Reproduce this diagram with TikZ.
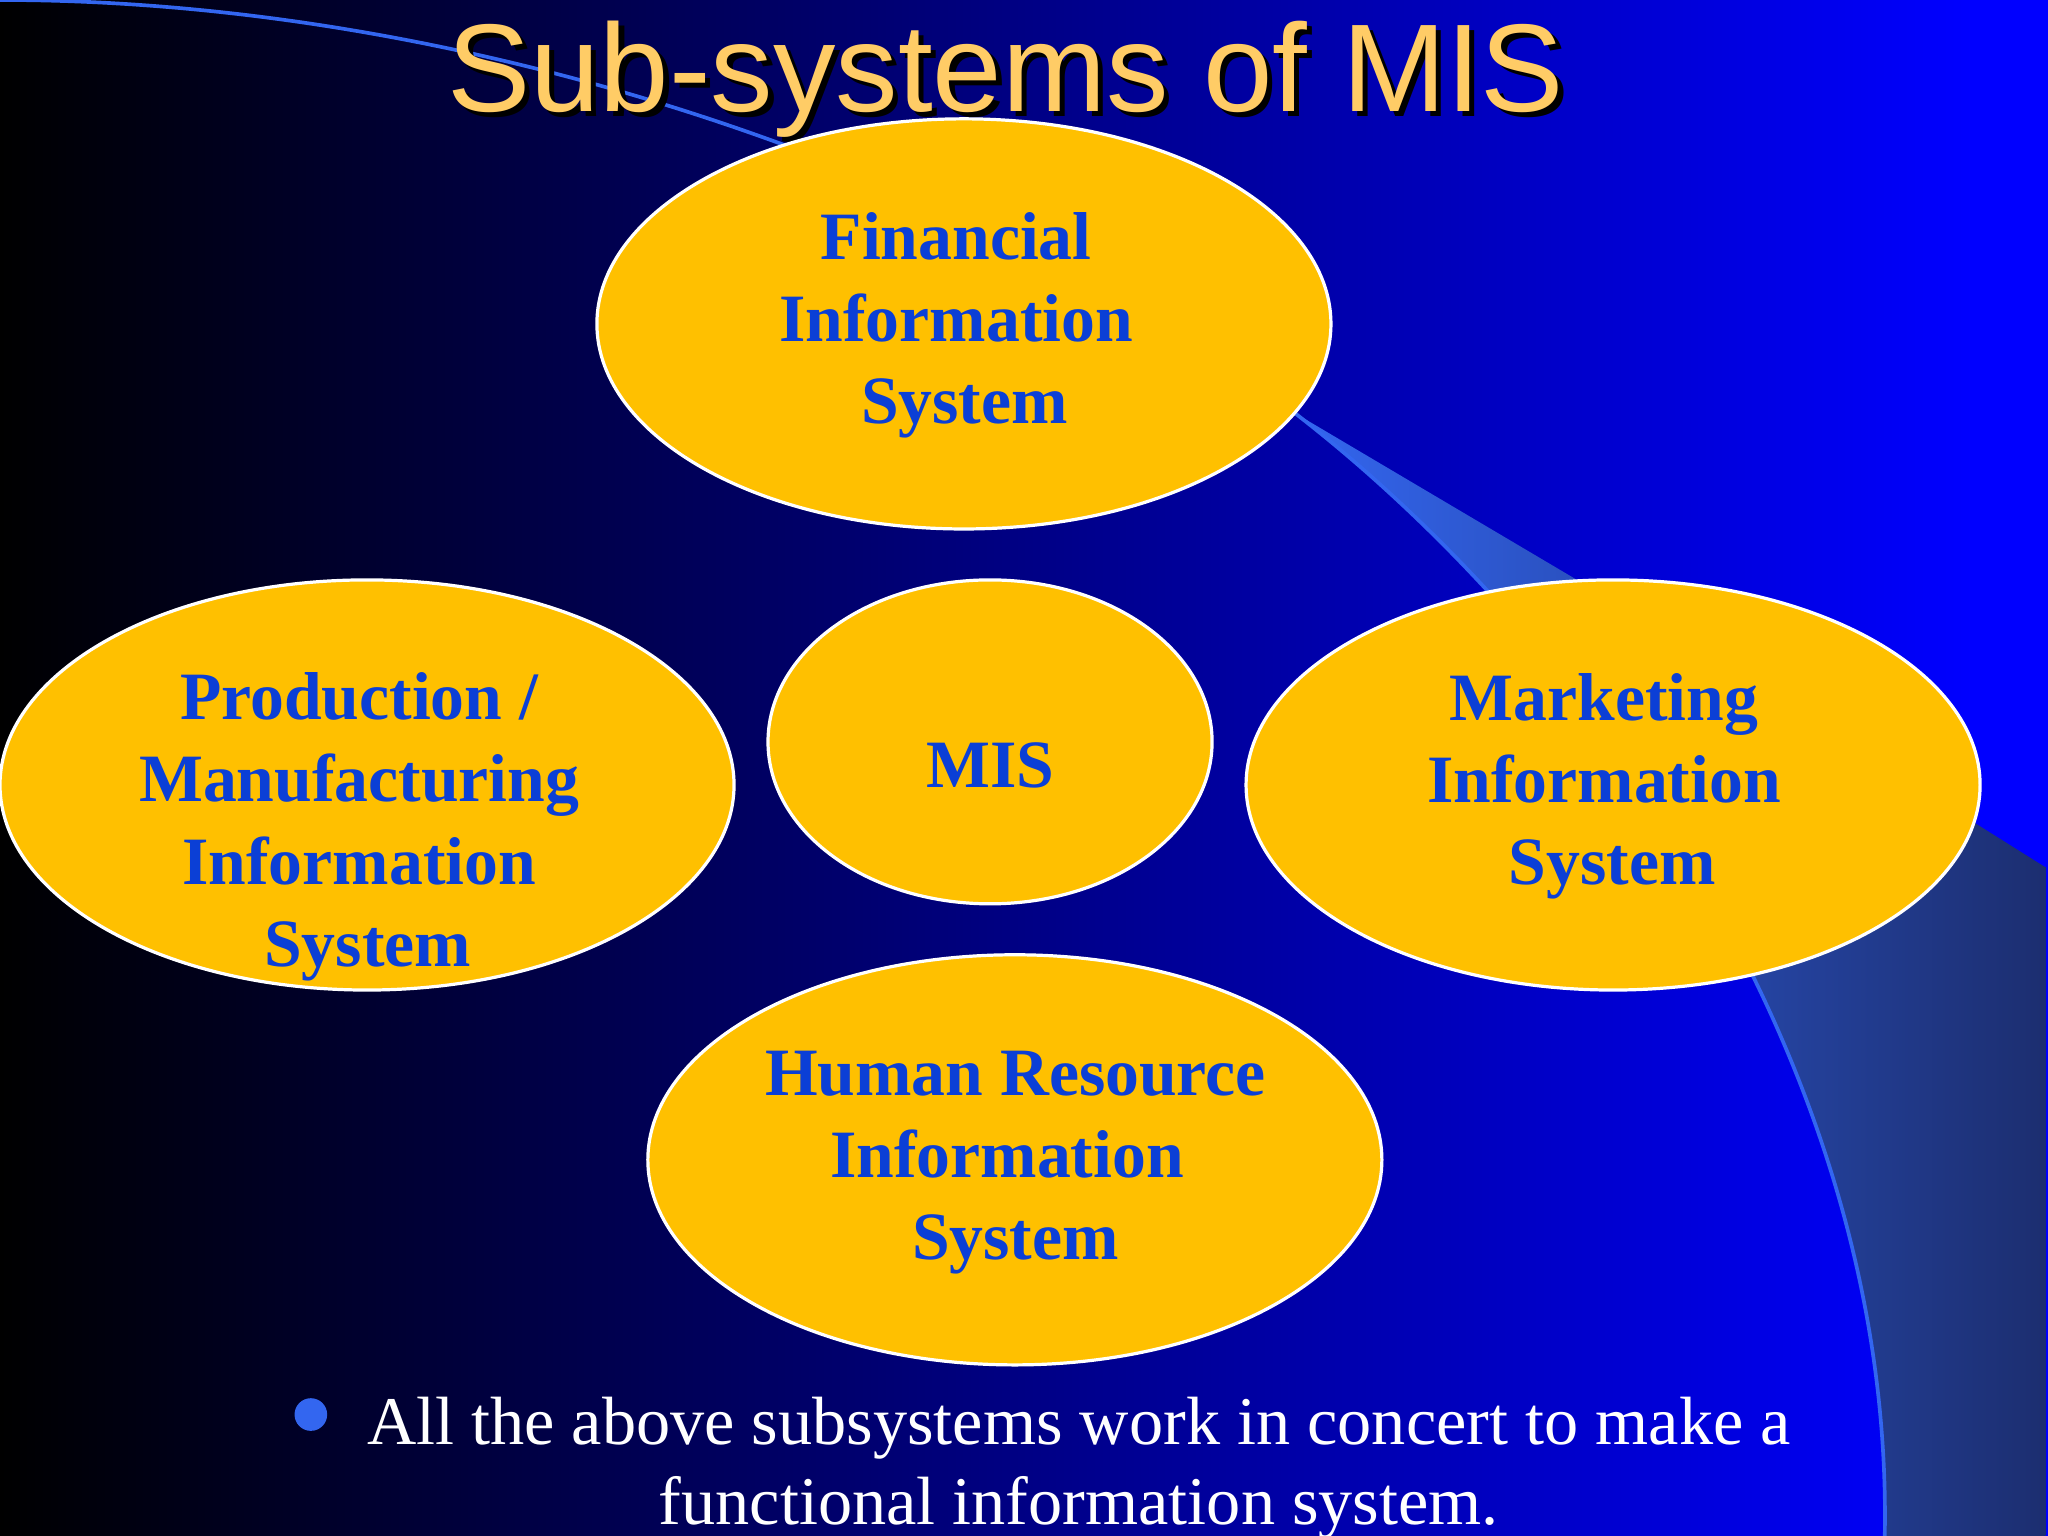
\documentclass[tikz,border=0pt]{standalone}
\usepackage{fontspec}
\usetikzlibrary{shapes.geometric}
\setmainfont{Liberation Serif}
\newfontfamily\titlefont{Liberation Sans}
\definecolor{ovalfill}{HTML}{FFC000}
\definecolor{ovaltextcol}{HTML}{0B3FD6}
\definecolor{titlecol}{HTML}{FFCC66}
\definecolor{swoosh}{HTML}{3366F0}
\definecolor{swooshdark}{HTML}{1C2E70}
\tikzset{
	ovalbox/.style={ellipse,draw=white,line width=0.7pt,fill=ovalfill,inner sep=0pt,minimum width=5.62cm,minimum height=3.14cm},
	ovaltext/.style={text=ovaltextcol,align=center,font=\fontsize{14.75}{17.9}\selectfont\bfseries},
	titletext/.style={anchor=base,font=\fontsize{27.2}{30}\selectfont\titlefont},
	bodytext/.style={text=white,align=center,font=\fontsize{14.87}{17.6}\selectfont}
}
\begin{document}
\begin{tikzpicture}
	\useasboundingbox (0,0) rectangle (15.68,-11.76);
	% background
	\fill[blue] (0,0) rectangle (15.68,-11.76);
	\shade[left color=black,right color=blue] (0,0) rectangle (15.1,-11.76);
	% swoosh
	\shade[left color=swoosh,right color=swooshdark]
		(9.91,-3.16) .. controls (12.1,-4.85) and (14.5,-8.1) .. (14.43,-11.76)
		-- (15.66,-11.76) -- (15.66,-6.64) -- (15.15,-6.32) -- (12.04,-4.42) -- cycle;
	\draw[swoosh,line width=0.8pt]
		(0,0) .. controls (3.5,0) and (7.3,-1.25) .. (9.91,-3.16)
		.. controls (12.1,-4.85) and (14.5,-8.1) .. (14.43,-11.76);
	% title
	\node[titletext,text=black] (titleshadow) at (7.74,-0.89) {Sub-systems of MIS};
	\node[titletext,text=titlecol] (title) at (7.7,-0.85) {Sub-systems of MIS};
	% ovals
	\node[ovalbox] (fin) at (7.38,-2.48) {};
	\node[ovalbox] (prod) at (2.81,-6.01) {};
	\node[ovalbox,minimum width=3.4cm,minimum height=2.48cm] (mis) at (7.58,-5.68) {};
	\node[ovalbox] (mkt) at (12.35,-6.01) {};
	\node[ovalbox] (hr) at (7.77,-8.88) {};
	\node[ovaltext] (fintext) at (7.32,-2.49) {Financial\\Information\\\hspace*{0.25em}System};
	\node[ovaltext] (prodtext) at (2.75,-6.33) {Production /\\Manufacturing\\Information\\\hspace*{0.25em}System};
	\node[ovaltext] (mistext) at (7.58,-5.86) {MIS};
	\node[ovaltext] (mkttext) at (12.28,-6.02) {Marketing\\Information\\\hspace*{0.25em}System};
	\node[ovaltext] (hrtext) at (7.71,-8.9) {\hspace*{0.25em}Human Resource\\Information\\\hspace*{0.25em}System};
	% bullet
	\node[circle,fill=swoosh,inner sep=0pt,minimum size=0.25cm] (bullet) at (2.38,-10.83) {};
	\node[bodytext] (body) at (8.26,-11.24) {All the above subsystems work in concert to make a\\functional information system.};
\end{tikzpicture}
\end{document}
